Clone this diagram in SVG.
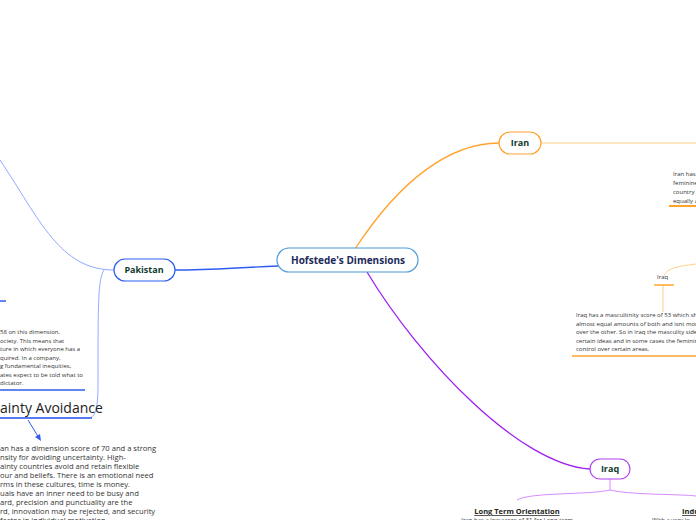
<svg xmlns="http://www.w3.org/2000/svg" width="696" height="520" viewBox="0 0 696 520">
<style>
text{font-family:"Open Sans","Noto Sans","Liberation Sans",sans-serif}
.n{font-weight:bold;font-size:9px;fill:#0d3b2e;text-anchor:middle}
.t{font-size:6px;fill:#333}
.p{font-size:7.6px;fill:#333}
</style>
<rect width="696" height="520" fill="#fff"/>
<g id="connectors" fill="none">
<path d="M355,249 C400,180 450,143 499,143" stroke="#ffa32e" stroke-width="1.3"/>
<path d="M541,143 L696,143" stroke="#ffd08a" stroke-width="1"/>
<path d="M669,206 L696,206" stroke="#ffa32e" stroke-width="2"/>
<path d="M663,285 L663,312" stroke="#ffd08a" stroke-width="1"/>
<path d="M664,276 C666,268 680,266 696,264" stroke="#ffd08a" stroke-width="1"/>
<path d="M654,285 L674,285" stroke="#ffa32e" stroke-width="1.5"/>
<path d="M572,356 L696,356" stroke="#ffa32e" stroke-width="1.5"/>
<path d="M278,266 C230,268 210,270 175,270" stroke="#2f5cf0" stroke-width="1.3"/>
<path d="M114,270 C60,270 40,220 0,160" stroke="#8fa9ff" stroke-width="1"/>
<path d="M104,270 C98,280 98,300 98,385 C98,410 95,418 88,418 L0,418" stroke="#8fa9ff" stroke-width="1"/>
<path d="M0,418 L92,418" stroke="#2f5cf0" stroke-width="1.5"/>
<path d="M0,390 L85,390" stroke="#2f5cf0" stroke-width="1.5"/>
<path d="M0,301 L6,301" stroke="#2f5cf0" stroke-width="1.5"/>
<path d="M28,420 L39,438" stroke="#2f5cf0" stroke-width="1"/>
<path d="M35,437 L41,441 L40,434 Z" fill="#2f5cf0"/>
<path d="M367,272 C420,360 520,465 590,469" stroke="#a020f0" stroke-width="1.3"/>
<path d="M610,479 L610,490 C590,495 530,492 517,500 M610,490 C630,495 680,494 696,496" stroke="#d68cff" stroke-width="1"/>
</g>
<g id="center"><rect x="277" y="248" width="141" height="24" rx="12" fill="#fff" stroke="#4a9ad8" stroke-width="1.2"/><text x="348" y="264" class="n" style="font-size:10px;fill:#1b2a5a">Hofstede's Dimensions</text></g>
<g id="pakistan"><rect x="114" y="259" width="61" height="22" rx="11" fill="#fff" stroke="#2f5cf0" stroke-width="1.2"/><text x="144" y="273" class="n">Pakistan</text></g>
<g id="iran"><rect x="499" y="132" width="42" height="22" rx="11" fill="#fff" stroke="#ffa32e" stroke-width="1.2"/><text x="520" y="146" class="n">Iran</text></g>
<g id="iraq"><rect x="590" y="459" width="40" height="20" rx="10" fill="#fff" stroke="#b040f5" stroke-width="1.2"/><text x="610" y="472" class="n">Iraq</text></g>
<g id="iran-text" class="t">
<text x="673" y="176">Iran has</text><text x="673" y="185">feminine</text><text x="673" y="194">country a</text><text x="673" y="203">equally a</text>
</g>
<g id="iraq-sub"><text x="657" y="279" class="t">Iraq</text>
<text class="t"><tspan x="576" y="317">Iraq has a masculitnity score of 53 which sh</tspan><tspan x="576" y="326">almost equal amounts of both and isnt mor</tspan><tspan x="576" y="334">over the other. So in Iraq the masculity side</tspan><tspan x="576" y="343">certain ideas and in some cases the feminin</tspan><tspan x="576" y="351">control over certain areas.</tspan></text></g>
<g id="pak-text">
<text class="t"><tspan x="0" y="334">58 on this dimension,</tspan><tspan x="0" y="343">ociety. This means that</tspan><tspan x="0" y="351">ture in which everyone has a</tspan><tspan x="0" y="360">quired. In a company,</tspan><tspan x="0" y="368">g fundamental inequities,</tspan><tspan x="0" y="377">ates expect to be told what to</tspan><tspan x="0" y="385">dictator.</tspan></text>
<text x="0" y="413" style="font-size:14px;fill:#222">ainty Avoidance</text>
<text class="p"><tspan x="0" y="451">an has a dimension score of 70 and a strong</tspan><tspan x="0" y="460">nsity for avoiding uncertainty. High-</tspan><tspan x="0" y="469">ainty countries avoid and retain flexible</tspan><tspan x="0" y="478">our and beliefs. There is an emotional need</tspan><tspan x="0" y="487">rms in these cultures, time is money.</tspan><tspan x="0" y="496">uals have an inner need to be busy and</tspan><tspan x="0" y="505">ard, precision and punctuality are the</tspan><tspan x="0" y="514">rd, innovation may be rejected, and security</tspan><tspan x="0" y="523">factor in individual motivation.</tspan></text>
</g>
<g id="iraq-children">
<text x="517" y="514" style="font-size:7.5px;font-weight:bold;fill:#222;text-anchor:middle;text-decoration:underline">Long Term Orientation</text>
<text x="517" y="522" class="t" style="text-anchor:middle">Iran has a low score of 31 for Long-term</text>
<text x="682" y="514" style="font-size:7.5px;font-weight:bold;fill:#222;text-decoration:underline">Indu</text>
<text x="652" y="522" class="t">With a very lo</text>
</g>
</svg>
